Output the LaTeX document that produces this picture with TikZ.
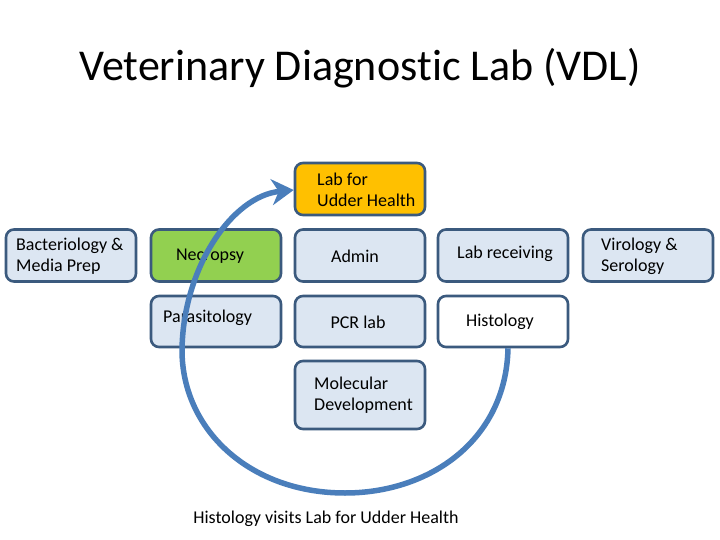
\documentclass[tikz,border=0pt]{standalone}
\usepackage{fontspec}
\setmainfont[RawFeature={-liga;-clig;-dlig;-hlig;-calt}]{Carlito}
\usetikzlibrary{arrows.meta}
\definecolor{boxfill}{HTML}{DCE6F2}
\definecolor{boxline}{HTML}{3B5A7E}
\definecolor{udderfill}{HTML}{FFC000}
\definecolor{necrofill}{HTML}{92D050}
\definecolor{arcblue}{HTML}{4A7EBB}
\tikzset{
  labbox/.style={draw=boxline, line width=2.6pt, rounded corners=8pt, fill=boxfill,
    minimum width=130pt, minimum height=52pt, inner sep=0pt},
  labtext/.style={font=\fontsize{18}{21}\selectfont, align=left, inner sep=0pt, text=black},
  cycle arrow/.style={draw=arcblue, line width=5.5pt,
    -{Stealth[length=22pt, width=26pt, inset=7pt]}}
}
\begin{document}
\begin{tikzpicture}[x=1pt, y=-1pt]
\useasboundingbox (0,0) rectangle (720,540);
\fill[white] (0,0) rectangle (720,540);

\node[font=\fontsize{44}{50}\selectfont] (title) at (360,68) {Veterinary Diagnos\kern0pt t\kern0pt ic Lab (VDL)};

% boxes
\node[labbox, fill=udderfill] (udder) at (360,189) {};
\node[labbox] (bact)  at (71,255.5) {};
\node[labbox, fill=necrofill] (necro) at (216,255.5) {};
\node[labbox] (admin) at (360,255.5) {};
\node[labbox] (recv)  at (503,255.5) {};
\node[labbox] (viro)  at (648,255.5) {};
\node[labbox, minimum height=51pt] (para) at (216,321.5) {};
\node[labbox, minimum height=51pt] (pcr)  at (360,321.5) {};
\node[labbox, minimum height=51pt, fill=white] (hist) at (503,321.5) {};
\node[labbox, minimum height=68pt] (mol) at (360,395) {};

% texts
\node[labtext, anchor=west] (tudder) at (317,190) {Lab for\\Udder Health};
\node[labtext, anchor=west] (tbact) at (16,256) {Bacteriology \&\\Media Prep};
\node[labtext] (tnecro) at (210,256) {Necropsy};
\node[labtext] (tadmin) at (355,256) {Admin};
\node[labtext] (trecv) at (505,254) {Lab receiving};
\node[labtext, anchor=west] (tviro) at (601,256.5) {Virology \&\\Serology};
\node[labtext, anchor=west] (tpara) at (163,318) {Parasitology};
\node[labtext] (tpcr) at (358,322) {PCR lab};
\node[labtext] (thist) at (500,322) {Histology};
\node[labtext, anchor=west] (tmol) at (314,395) {Molecular\\Development};

\node[labtext] (caption) at (326,519) {Histology visits Lab for Udder Health};

% cycle arrow from Histology to Lab for Udder Health
\coordinate (bottom) at (345,493);
\coordinate (leftpt) at (182,350);
\draw[cycle arrow] ([xshift=5pt]hist.south)
  .. controls (506,440) and (430,493) .. (bottom)
  .. controls (250,493) and (182,430) .. (leftpt)
  .. controls (183,268) and (232,196) .. ([yshift=-1pt]udder.west);
\end{tikzpicture}
\end{document}
